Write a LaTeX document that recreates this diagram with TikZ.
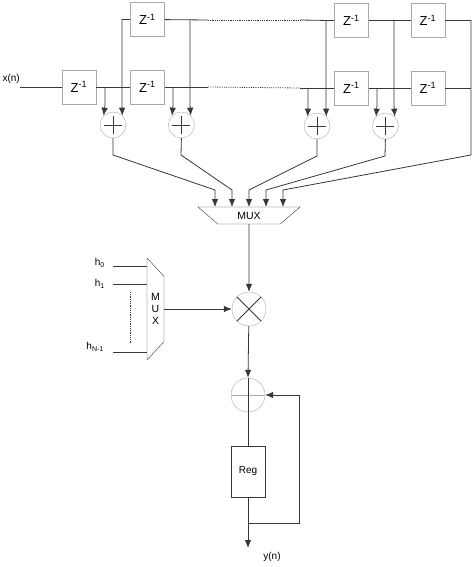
\documentclass[tikz,border=0pt]{standalone}
\usepackage{fontspec}
\setmainfont{Liberation Sans}
\definecolor{WireGray}{RGB}{55,55,55}
\definecolor{BoxGray}{RGB}{170,170,170}
\usetikzlibrary{arrows.meta, positioning, shapes.geometric}
\begin{document}
\begin{tikzpicture}[x=1pt, y=-1pt,
  delay/.style={draw=BoxGray, minimum width=34pt, minimum height=34pt,
                inner sep=0pt, font=\fontsize{13}{13}\selectfont},
  adder/.style={circle, draw=BoxGray, minimum size=26pt, inner sep=0pt},
  bigop/.style={circle, draw=BoxGray, minimum size=34pt, inner sep=0pt},
  lbl/.style={font=\fontsize{10}{10}\selectfont, inner sep=0pt},
  wire/.style={draw=WireGray, line width=0.8pt},
  arr/.style={wire, -{Latex[length=8pt,width=6.5pt]}},
  muxbox/.style={draw=WireGray, trapezium, trapezium stretches=true,
                 trapezium angle=45, inner sep=0pt,
                 font=\fontsize{10.5}{12}\selectfont},
  node distance=34pt
]
  \useasboundingbox (0,0) rectangle (474,567);

  % delay line
  \node[delay] (zb1) at (79,87) {Z\textsuperscript{-1}};
  \node[delay, right=of zb1] (zb2) {Z\textsuperscript{-1}};
  \node[delay, above=33pt of zb2] (zt1) {Z\textsuperscript{-1}};
  \node[delay] (zb3) at (351.5,88) {Z\textsuperscript{-1}};
  \node[delay, right=42pt of zb3] (zb4) {Z\textsuperscript{-1}};
  \node[delay, above=33pt of zb3] (zt3) {Z\textsuperscript{-1}};
  \node[delay, right=42pt of zt3] (zt4) {Z\textsuperscript{-1}};

  \node[adder] (add1) at (113,125) {};
  \node[adder, right=42pt of add1] (add2) {};
  \node[adder] (add3) at (317,126) {};
  \node[adder, right=42pt of add3] (add4) {};

  \node[lbl, anchor=east] (xin) at (20,79) {x(n)};
  \coordinate (xstart) at (20,87);
  \draw[wire] (xstart) -- (zb1);
  \draw[wire] (zb1) -- (zb2);
  \draw[wire] (zb2.east) -- (208,87);
  \draw[wire, densely dotted] (208,87) -- (300,88);
  \draw[wire] (300,88) -- (zb3.west);
  \draw[wire] (zb3) -- (zb4);
  \draw[wire] (zt1.east) -- (208,20);
  \draw[wire, densely dotted] (208,20) -- (300,20);
  \draw[wire] (300,20) -- (zt3.west);
  \draw[wire] (zt3) -- (zt4);

  % tap arrows into the adders
  \draw[arr] (105,87) -- (105,105) -- (add1.north west);
  \draw[arr] (zt1.west) -| (122,105) -- (add1.north east);
  \draw[arr] (173,87) -- (173,105) -- (add2.north west);
  \draw[arr] (190,20) -- (190,105) -- (add2.north east);
  \draw[arr] (308,88) -- (308,105) -- (add3.north west);
  \draw[arr] (326,20) -- (326,105) -- (add3.north east);
  \draw[arr] (377,88) -- (377,105) -- (add4.north west);
  \draw[arr] (394,20) -- (394,105) -- (add4.north east);

  % plus signs
  \draw[wire] (add1.center) ++(-9,0) -- ++(18,0) (add1.center) ++(0,-9) -- ++(0,18);
  \draw[wire] (add2.center) ++(-9,0) -- ++(18,0) (add2.center) ++(0,-9) -- ++(0,18);
  \draw[wire] (add3.center) ++(-9,0) -- ++(18,0) (add3.center) ++(0,-9) -- ++(0,18);
  \draw[wire] (add4.center) ++(-9,0) -- ++(18,0) (add4.center) ++(0,-9) -- ++(0,18);

  % upper multiplexer
  \node[muxbox, shape border rotate=180, minimum width=102pt, minimum height=17pt]
    (muxa) at (249,215.5) {MUX};
  \coordinate (ina1) at (215,207);
  \coordinate (ina2) at (232,207);
  \coordinate (ina3) at (249,207);
  \coordinate (ina4) at (266,207);
  \coordinate (ina5) at (283,207);

  \draw[arr] (add1.south) -- (113,155) -- (215,190) -- (ina1);
  \draw[arr] (add2.south) -- (181,155) -- (232,190) -- (ina2);
  \draw[arr] (add3.south) -- (317,156) -- (249,190) -- (ina3);
  \draw[arr] (add4.south) -- (385,156) -- (266,190) -- (ina4);
  \draw[arr] (zt4.east) -| (471,155) -- (283,190) -- (ina5);
  \draw[wire] (zb4.east) -- (471,88);

  % coefficient multiplexer
  \node[muxbox, shape border rotate=270, minimum width=102pt, minimum height=17pt,
        align=center] (muxh) at (155.5,309) {M\\U\\X};
  \node[bigop] (mul) at (249,309) {};
  \draw[wire] (mul.north west) -- (mul.south east);
  \draw[wire] (mul.north east) -- (mul.south west);
  \coordinate (hin0) at (147,266);
  \coordinate (hin1) at (147,284);
  \coordinate (hin2) at (147,352);
  \node[lbl, anchor=east] (h0) at (105,263) {h\textsubscript{0}};
  \node[lbl, anchor=east] (h1) at (105,284) {h\textsubscript{1}};
  \node[lbl, anchor=east] (hn) at (104,347) {h\textsubscript{N-1}};
  \draw[wire] (113,266) -- (hin0);
  \draw[wire] (113,284) -- (hin1);
  \draw[wire] (113,352) -- (hin2);
  \draw[wire, densely dotted] (130,292) -- (130,343);

  \draw[arr] (muxh.east |- mul) -- (mul);
  \draw[arr] (muxa.south) -- (mul);

  % accumulator
  \node[bigop] (acc) at (248,395) {};
  \node[draw=WireGray, minimum width=34pt, minimum height=51pt, inner sep=0pt,
        lbl] (reg) at (248,471.5) {Reg};
  \coordinate (yout) at (248,548);
  \coordinate (fbk) at (248,523);
  \node[lbl] (ylab) at (272,557) {y(n)};
  \draw[arr] (mul) -- (acc.north);
  \draw[draw=BoxGray] (acc.west) -- (acc.east);
  \draw[wire] (acc.north) -- (reg.north);
  \draw[arr] (reg.south) -- (yout);
  \draw[arr] (fbk) -- (299,523) |- (acc.east);
\end{tikzpicture}
\end{document}
